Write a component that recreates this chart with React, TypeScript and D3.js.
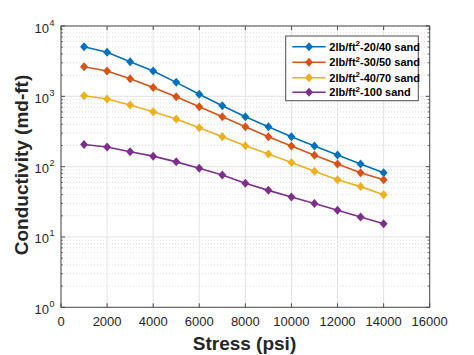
import React from "react";
import * as d3 from "d3";

const stress = [1000, 2000, 3000, 4000, 5000, 6000, 7000, 8000, 9000, 10000, 11000, 12000, 13000, 14000];
const sand2040 = [5080, 4230, 3110, 2290, 1580, 1070, 735, 513, 370, 266, 196, 146, 109, 82];
const sand3050 = [2640, 2290, 1780, 1340, 986, 711, 513, 370, 266, 196, 145, 109, 82, 65];
const sand4070 = [1020, 917, 752, 604, 475, 358, 266, 198, 151, 115, 86, 65, 52, 40];
const sand100 = [207, 190, 163, 141, 117, 95, 76, 58, 46, 37, 30, 24, 19.2, 15.4];
const seriesNames = ["-20/40 sand", "-30/50 sand", "-40/70 sand", "-100 sand"];
const seriesColors = ["#0072BD", "#D95319", "#EDB120", "#7E2F8E"];
const xTicks = [0, 2000, 4000, 6000, 8000, 10000, 12000, 14000, 16000];
const yExps = [0, 1, 2, 3, 4];

const W = 474, H = 355;
const L = 61, R = 429.7, T = 26, B = 307.3;

export default function App() {
  const x = d3.scaleLinear().domain([0, 16000]).range([L, R]);
  const y = d3.scaleLog().domain([1, 10000]).range([B, T]);
  const all = [sand2040, sand3050, sand4070, sand100];
  const line = d3.line<number>().x((_, i) => x(stress[i])).y((v) => y(v));
  const minor: number[] = [];
  for (let e = 0; e < 4; e++) for (let k = 2; k <= 9; k++) minor.push(k * Math.pow(10, e));
  const axisCol = "#4d4d4d";
  const textCol = "#262626";
  const font = "'Liberation Sans', Arial, Helvetica, sans-serif";
  const diamond = (cx: number, cy: number) =>
    `M${cx},${cy - 4.5}L${cx + 4},${cy}L${cx},${cy + 4.5}L${cx - 4},${cy}Z`;
  const legX = 285.7, legY = 36, legW = 132.6, legH = 64.7;
  const legRows = [46.7, 62.3, 77.7, 92.3];
  return (
    <svg width={W} height={H} style={{ position: "absolute", left: 0, top: 0, background: "#fff" }} fontFamily={font}>
      <rect x={0} y={0} width={W} height={H} fill="#fff" />
      {minor.map((v, i) => (
        <line key={"mg" + i} x1={L} x2={R} y1={y(v)} y2={y(v)} stroke="#cfcfcf" strokeWidth={0.7} strokeDasharray="1,2" />
      ))}
      {yExps.map((e) => (
        <line key={"gy" + e} x1={L} x2={R} y1={y(Math.pow(10, e))} y2={y(Math.pow(10, e))} stroke="#e3e3e3" strokeWidth={1} />
      ))}
      {xTicks.map((t) => (
        <line key={"gx" + t} x1={x(t)} x2={x(t)} y1={T} y2={B} stroke="#e3e3e3" strokeWidth={1} />
      ))}
      {all.map((s, si) => (
        <g key={"s" + si}>
          <path d={line(s) || ""} fill="none" stroke={seriesColors[si]} strokeWidth={1.6} />
          {s.map((v, i) => (
            <path key={i} d={diamond(x(stress[i]), y(v))} fill={seriesColors[si]} />
          ))}
        </g>
      ))}
      <rect x={L} y={T} width={R - L} height={B - T} fill="none" stroke={axisCol} strokeWidth={1} />
      {xTicks.map((t) => (
        <g key={"xt" + t}>
          <line x1={x(t)} x2={x(t)} y1={B} y2={B - 4} stroke={axisCol} />
          <line x1={x(t)} x2={x(t)} y1={T} y2={T + 4} stroke={axisCol} />
          <text x={x(t)} y={326} fontSize={13} fill={textCol} textAnchor="middle">{t}</text>
        </g>
      ))}
      {minor.map((v, i) => (
        <g key={"ymt" + i}>
          <line x1={L} x2={L + 2} y1={y(v)} y2={y(v)} stroke={axisCol} strokeWidth={0.8} />
          <line x1={R} x2={R - 2} y1={y(v)} y2={y(v)} stroke={axisCol} strokeWidth={0.8} />
        </g>
      ))}
      {yExps.map((e) => {
        const ty = y(Math.pow(10, e));
        return (
          <g key={"yt" + e}>
            <line x1={L} x2={L + 4} y1={ty} y2={ty} stroke={axisCol} />
            <line x1={R} x2={R - 4} y1={ty} y2={ty} stroke={axisCol} />
            <text x={49} y={ty + 6.5} fontSize={13} fill={textCol} textAnchor="end">10</text>
            <text x={49.5} y={ty - 0.5} fontSize={9} fill={textCol} textAnchor="start">{e}</text>
          </g>
        );
      })}
      <text x={244.5} y={350} fontSize={19} fontWeight="bold" fill={textCol} textAnchor="middle">Stress (psi)</text>
      <text transform={`translate(28,165) rotate(-90)`} fontSize={19} fontWeight="bold" fill={textCol} textAnchor="middle">Conductivity (md-ft)</text>
      <rect x={legX} y={legY} width={legW} height={legH} fill="#fff" stroke={axisCol} strokeWidth={1} />
      {seriesNames.map((n, i) => {
        const ry = legRows[i];
        return (
          <g key={"lg" + i}>
            <line x1={292.3} x2={325.7} y1={ry} y2={ry} stroke={seriesColors[i]} strokeWidth={1.6} />
            <path d={diamond(309, ry)} fill={seriesColors[i]} />
            <text x={329.3} y={ry + 4} fontSize={11} fontWeight="bold" fill="#000">
              2lb/ft<tspan dy={-4.5} fontSize={8}>2</tspan><tspan dy={4.5}>{n}</tspan>
            </text>
          </g>
        );
      })}
    </svg>
  );
}
